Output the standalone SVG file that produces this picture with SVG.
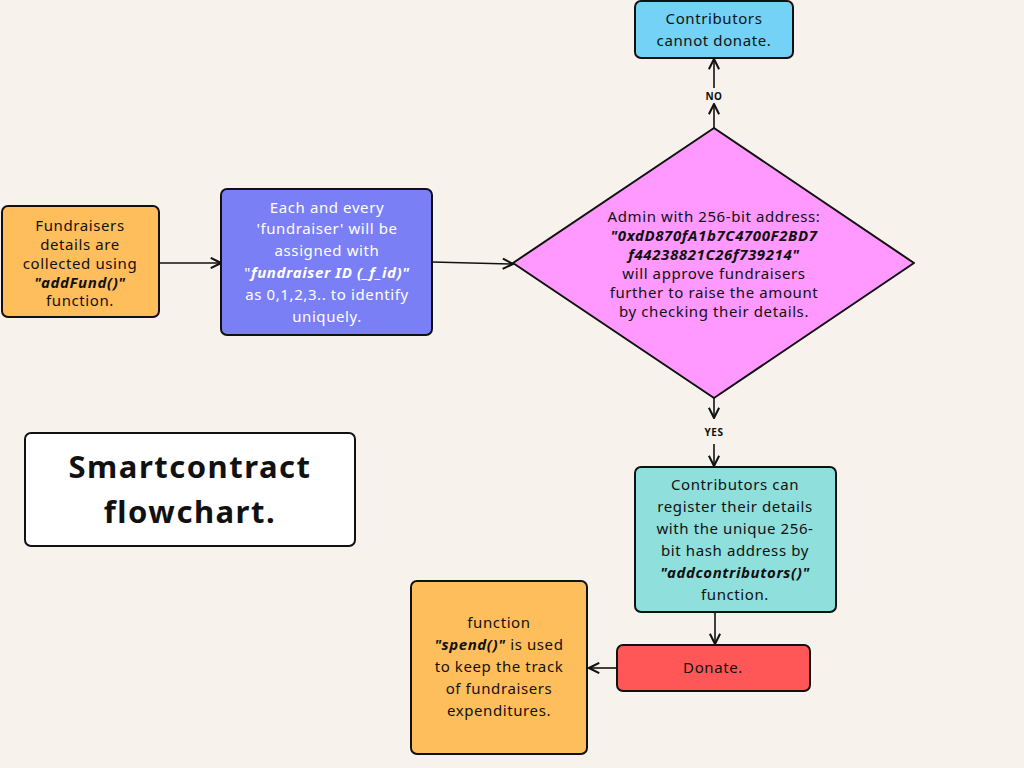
<svg xmlns="http://www.w3.org/2000/svg" width="1024" height="768" viewBox="0 0 1024 768">
<style>
.n{stroke:#111;stroke-width:2}
text{font-family:"Noto Sans","Open Sans",sans-serif;font-size:15px;text-anchor:middle;fill:#111;letter-spacing:0.6px}
.b{font-weight:bold;font-style:italic}
.w{fill:#fff}
.c{stroke:#111;stroke-width:1.6;fill:none;marker-end:url(#a)}
.lb{font-size:10px;font-weight:bold}
</style>
<defs><marker id="a" viewBox="0 0 10 10" refX="9" refY="5" markerWidth="8" markerHeight="8" orient="auto"><path d="M1,1 L9,5 L1,9" fill="none" stroke="#111" stroke-width="1.6"/></marker></defs>
<rect width="1024" height="768" fill="#F7F3EC"/>
<g id="connectors">
<line class="c" x1="159" y1="263" x2="221" y2="263"/>
<line class="c" x1="432" y1="262" x2="513" y2="264"/>
<line class="c" x1="714" y1="128" x2="714" y2="104"/>
<line class="c" x1="714" y1="88" x2="714" y2="59"/>
<text class="lb" x="714" y="100">NO</text>
<line class="c" x1="714" y1="398" x2="714" y2="418"/>
<line class="c" x1="714" y1="444" x2="714" y2="466"/>
<text class="lb" x="714" y="436">YES</text>
<line class="c" x1="715" y1="612" x2="715" y2="644"/>
<line class="c" x1="617" y1="668" x2="589" y2="668"/>
</g>
<g id="n1"><rect class="n" x="2" y="206" width="157" height="111" rx="6" fill="#FFBE5C"/>
<text x="80" y="231">Fundraisers</text><text x="80" y="250">details are</text><text x="80" y="269">collected using</text><text x="80" y="288" class="b">"addFund()"</text><text x="80" y="306">function.</text></g>
<g id="n2"><rect class="n" x="221" y="189" width="211" height="146" rx="6" fill="#7B7FF5"/>
<text class="w" x="327" y="213">Each and every</text><text class="w" x="327" y="234">'fundraiser' will be</text><text class="w" x="327" y="256">assigned with</text><text class="w" x="327" y="278">"<tspan class="b w">fundraiser ID (_f_id)"</tspan></text><text class="w" x="327" y="300">as 0,1,2,3.. to identify</text><text class="w" x="327" y="322">uniquely.</text></g>
<g id="n3"><polygon class="n" points="513,263 714,128 914,263 714,398" fill="#FF99FF" stroke-linejoin="round"/>
<text x="714" y="222">Admin with 256-bit address:</text><text class="b" x="714" y="241">"0xdD870fA1b7C4700F2BD7</text><text class="b" x="714" y="260">f44238821C26f739214"</text><text x="714" y="279">will approve fundraisers</text><text x="714" y="298">further to raise the amount</text><text x="714" y="317">by checking their details.</text></g>
<g id="n4"><rect class="n" x="635" y="1" width="158" height="57" rx="6" fill="#73D2F5"/>
<text x="714" y="24">Contributors</text><text x="714" y="46">cannot donate.</text></g>
<g id="n5"><rect class="n" x="635" y="467" width="201" height="145" rx="6" fill="#8FDFDC"/>
<text x="735" y="490">Contributors can</text><text x="735" y="512">register their details</text><text x="735" y="534">with the unique 256-</text><text x="735" y="556">bit hash address by</text><text class="b" x="735" y="578">"addcontributors()"</text><text x="735" y="600">function.</text></g>
<g id="n6"><rect class="n" x="617" y="645" width="193" height="46" rx="6" fill="#FF5757"/>
<text x="713" y="673">Donate.</text></g>
<g id="n7"><rect class="n" x="411" y="581" width="176" height="173" rx="6" fill="#FFBE5C"/>
<text x="499" y="628">function</text><text x="499" y="650"><tspan class="b">"spend()"</tspan> is used</text><text x="499" y="672">to keep the track</text><text x="499" y="694">of fundraisers</text><text x="499" y="716">expenditures.</text></g>
<g id="title"><rect class="n" x="25" y="433" width="330" height="113" rx="6" fill="#fff"/>
<text x="190" y="478" style="font-size:31px;font-weight:bold;letter-spacing:1.5px">Smartcontract</text><text x="190" y="523" style="font-size:31px;font-weight:bold;letter-spacing:1.5px">flowchart.</text></g>
</svg>
